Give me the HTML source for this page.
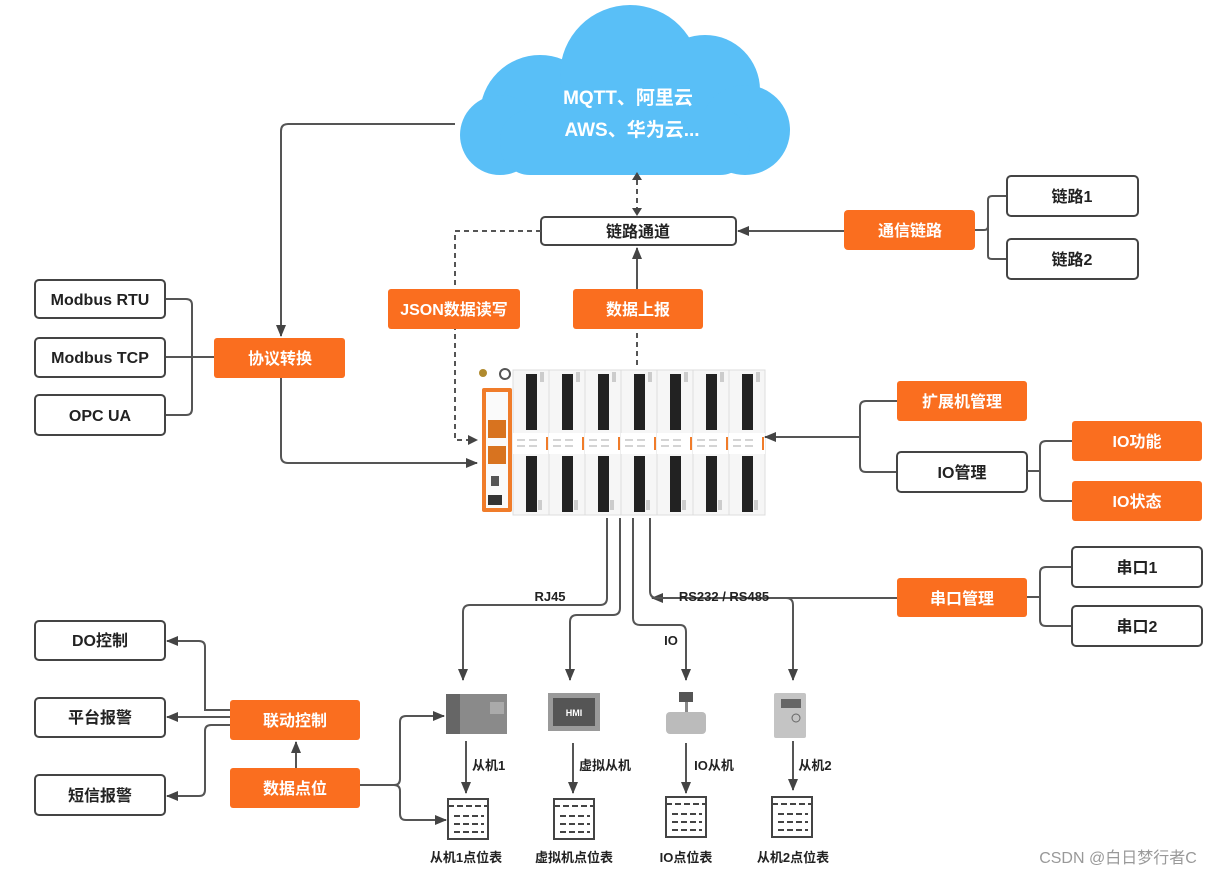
<!DOCTYPE html>
<html><head><meta charset="utf-8"><style>
html,body{margin:0;padding:0;background:#fff;}
svg{display:block;font-family:"Liberation Sans","Noto Sans CJK SC",sans-serif;}
.w{fill:#fff;stroke:#444;stroke-width:2}
.o{fill:#fa6e1f}
.tw{fill:#fff;font-size:16px;font-weight:bold;text-anchor:middle}
.tb{fill:#222;font-size:16px;font-weight:bold;text-anchor:middle}
.ln{fill:none;stroke:#555;stroke-width:2}
.sm{fill:#222;font-size:13px;font-weight:bold;text-anchor:middle}
</style></head><body>
<svg width="1223" height="875" viewBox="0 0 1223 875">
<defs>
<marker id="b" markerWidth="12" markerHeight="12" refX="11" refY="6" orient="auto" markerUnits="userSpaceOnUse"><path d="M0,1L12,6L0,11z" fill="#444"/></marker></defs>
<!-- cloud -->
<g fill="#59bff7">
<circle cx="540" cy="115" r="60"/><circle cx="630" cy="75" r="70"/><circle cx="705" cy="90" r="55"/><circle cx="745" cy="130" r="45"/><circle cx="500" cy="135" r="40"/>
<rect x="500" y="110" width="250" height="65" rx="30"/>
</g>
<text x="628" y="104" class="tw" style="font-size:19px">MQTT、阿里云</text>
<text x="632" y="136" class="tw" style="font-size:19px">AWS、华为云...</text>
<line x1="637" y1="180" x2="637" y2="209" stroke="#555" stroke-width="2" stroke-dasharray="5,4"/>
<path d="M632,180L637,172L642,180z" fill="#444"/><path d="M632,208L637,216L642,208z" fill="#444"/>
<rect x="541" y="217" width="195" height="28" rx="4" class="w"/><text x="638" y="237" class="tb">链路通道</text>
<rect x="844" y="210" width="131" height="40" rx="4" class="o"/><text x="910" y="236" class="tw">通信链路</text>
<line x1="844" y1="231" x2="738" y2="231" class="ln" marker-end="url(#b)"/>
<path d="M975,230H984M988,200V256M984,230Q988,230 988,226M988,200Q988,196 992,196H1006M988,256Q988,259 992,259H1006" class="ln"/>
<rect x="1007" y="176" width="131" height="40" rx="4" class="w"/><text x="1072" y="202" class="tb">链路1</text>
<rect x="1007" y="239" width="131" height="40" rx="4" class="w"/><text x="1072" y="265" class="tb">链路2</text>
<path d="M541,231H455V440H470" fill="none" stroke="#555" stroke-width="2" stroke-dasharray="5,4"/>
<path d="M468,435L478,440L468,445z" fill="#444"/>
<rect x="388" y="289" width="132" height="40" rx="3" class="o"/><text x="454" y="315" class="tw">JSON数据读写</text>
<rect x="573" y="289" width="130" height="40" rx="3" class="o"/><text x="638" y="315" class="tw">数据上报</text>
<line x1="637" y1="289" x2="637" y2="248" class="ln" marker-end="url(#b)"/>
<line x1="637" y1="365" x2="637" y2="330" stroke="#555" stroke-width="2" stroke-dasharray="5,4"/>
<path d="M455,124H288Q281,124 281,131V336" class="ln" marker-end="url(#b)"/>
<path d="M281,378V456Q281,463 288,463H477" class="ln" marker-end="url(#b)"/>
<rect x="214" y="338" width="131" height="40" rx="3" class="o"/><text x="280" y="364" class="tw">协议转换</text>
<path d="M165,299H186Q192,299 192,305V409Q192,415 186,415H165M165,357H214" class="ln"/>
<rect x="35" y="280" width="130" height="38" rx="4" class="w"/><text x="100" y="305" class="tb">Modbus RTU</text>
<rect x="35" y="338" width="130" height="39" rx="4" class="w"/><text x="100" y="363" class="tb">Modbus TCP</text>
<rect x="35" y="395" width="130" height="40" rx="4" class="w"/><text x="100" y="421" class="tb">OPC UA</text>
<!-- device -->
<g>
<rect x="482" y="388" width="30" height="124" rx="2" fill="#f07c2a"/><rect x="486" y="392" width="22" height="116" fill="#fafafa"/>
<rect x="488" y="420" width="18" height="18" fill="#d8731f"/><rect x="488" y="446" width="18" height="18" fill="#d8731f"/>
<rect x="491" y="476" width="8" height="10" fill="#555"/><rect x="488" y="495" width="14" height="10" fill="#333"/>
<circle cx="483" cy="373" r="4" fill="#b08a2e"/><circle cx="505" cy="374" r="5" fill="none" stroke="#555" stroke-width="2"/>
<g id="m">
<rect x="513" y="370" width="36" height="145" fill="#f6f6f6" stroke="#ddd"/>
<rect x="526" y="374" width="11" height="56" fill="#222"/><rect x="526" y="456" width="11" height="56" fill="#222"/>
<rect x="540" y="372" width="4" height="10" fill="#ccc"/><rect x="538" y="500" width="4" height="10" fill="#ccc"/>
<rect x="513" y="433" width="36" height="21" fill="#fff"/>
<rect x="546" y="437" width="2" height="13" fill="#f07c2a"/>
<path d="M517,440h8M517,446h8M529,440h8M529,446h8" stroke="#aaa"/>
</g>
<use href="#m" x="36"/><use href="#m" x="72"/><use href="#m" x="108"/><use href="#m" x="144"/><use href="#m" x="180"/><use href="#m" x="216"/>
</g>
<path d="M897,401H866Q860,401 860,407V466Q860,472 866,472H897" class="ln"/>
<line x1="860" y1="437" x2="765" y2="437" class="ln" marker-end="url(#b)"/>
<rect x="897" y="381" width="130" height="40" rx="3" class="o"/><text x="962" y="407" class="tw">扩展机管理</text>
<rect x="897" y="452" width="130" height="40" rx="4" class="w"/><text x="962" y="478" class="tb">IO管理</text>
<path d="M1072,441H1046Q1040,441 1040,447V495Q1040,501 1046,501H1072M1027,471H1040" class="ln"/>
<rect x="1072" y="421" width="130" height="40" rx="3" class="o"/><text x="1137" y="447" class="tw">IO功能</text>
<rect x="1072" y="481" width="130" height="40" rx="3" class="o"/><text x="1137" y="507" class="tw">IO状态</text>
<rect x="897" y="578" width="130" height="39" rx="3" class="o"/><text x="962" y="604" class="tw">串口管理</text>
<path d="M1072,567H1046Q1040,567 1040,573V620Q1040,626 1046,626H1072M1027,597H1040" class="ln"/>
<rect x="1072" y="547" width="130" height="40" rx="4" class="w"/><text x="1137" y="573" class="tb">串口1</text>
<rect x="1072" y="606" width="130" height="40" rx="4" class="w"/><text x="1137" y="632" class="tb">串口2</text>
<line x1="897" y1="598" x2="652" y2="598" class="ln" marker-end="url(#b)"/>
<path d="M607,518V598Q607,605 600,605H470Q463,605 463,612V680" class="ln" marker-end="url(#b)"/>
<path d="M620,518V608Q620,615 613,615H577Q570,615 570,622V680" class="ln" marker-end="url(#b)"/>
<path d="M633,518V618Q633,625 640,625H680Q686,625 686,632V680" class="ln" marker-end="url(#b)"/>
<path d="M650,518V591Q650,598 657,598H786Q793,598 793,605V680" class="ln" marker-end="url(#b)"/>
<text x="550" y="601" class="sm">RJ45</text><text x="724" y="601" class="sm">RS232 / RS485</text><text x="671" y="645" class="sm">IO</text>
<rect x="446" y="694" width="61" height="40" fill="#8a8a8a"/><rect x="446" y="694" width="14" height="40" fill="#666"/><rect x="490" y="702" width="14" height="12" fill="#aaa"/>
<rect x="548" y="693" width="52" height="38" fill="#9a9a9a"/><rect x="553" y="698" width="42" height="28" fill="#555"/><text x="574" y="716" fill="#fff" font-size="9" font-weight="bold" text-anchor="middle">HMI</text>
<rect x="679" y="692" width="14" height="10" fill="#555"/><rect x="685" y="702" width="3" height="12" fill="#888"/><rect x="666" y="712" width="40" height="22" rx="4" fill="#bbb"/>
<rect x="774" y="693" width="32" height="45" rx="2" fill="#c4c4c4"/><rect x="781" y="699" width="20" height="9" fill="#666"/><circle cx="796" cy="718" r="4" fill="none" stroke="#666"/>
<g class="ln">
<line x1="466" y1="741" x2="466" y2="793" marker-end="url(#b)"/><line x1="573" y1="743" x2="573" y2="793" marker-end="url(#b)"/><line x1="686" y1="743" x2="686" y2="793" marker-end="url(#b)"/><line x1="793" y1="741" x2="793" y2="790" marker-end="url(#b)"/>
</g>
<text x="472" y="770" class="sm" style="text-anchor:start">从机1</text>
<text x="605" y="770" class="sm">虚拟从机</text><text x="714" y="770" class="sm">IO从机</text><text x="815" y="770" class="sm">从机2</text>
<g fill="#fff" stroke="#444" stroke-width="2">
<rect x="448" y="799" width="40" height="40"/><rect x="554" y="799" width="40" height="40"/><rect x="666" y="797" width="40" height="40"/><rect x="772" y="797" width="40" height="40"/>
</g>
<g stroke="#444" stroke-width="2" stroke-dasharray="6,3">
<path d="M448,806h40M454,816h30M454,824h30M454,832h30"/><path d="M554,806h40M560,816h30M560,824h30M560,832h30"/>
<path d="M666,804h40M672,814h30M672,822h30M672,830h30"/><path d="M772,804h40M778,814h30M778,822h30M778,830h30"/>
</g>
<text x="466" y="862" class="sm">从机1点位表</text><text x="574" y="862" class="sm">虚拟机点位表</text><text x="686" y="862" class="sm">IO点位表</text><text x="793" y="862" class="sm">从机2点位表</text>
<rect x="35" y="621" width="130" height="39" rx="4" class="w"/><text x="100" y="646" class="tb">DO控制</text>
<rect x="35" y="698" width="130" height="39" rx="4" class="w"/><text x="100" y="723" class="tb">平台报警</text>
<rect x="35" y="775" width="130" height="40" rx="4" class="w"/><text x="100" y="801" class="tb">短信报警</text>
<rect x="230" y="700" width="130" height="40" rx="3" class="o"/><text x="295" y="726" class="tw">联动控制</text>
<rect x="230" y="768" width="130" height="40" rx="3" class="o"/><text x="295" y="794" class="tw">数据点位</text>
<path d="M230,710H205V647Q205,641 199,641H167" class="ln" marker-end="url(#b)"/>
<line x1="230" y1="717" x2="167" y2="717" class="ln" marker-end="url(#b)"/>
<path d="M230,725H211Q205,725 205,731V790Q205,796 199,796H167" class="ln" marker-end="url(#b)"/>
<line x1="296" y1="768" x2="296" y2="742" class="ln" marker-end="url(#b)"/>
<path d="M360,785H394Q400,785 400,779V722Q400,716 406,716H444" class="ln" marker-end="url(#b)"/>
<path d="M394,785Q400,785 400,791V814Q400,820 406,820H446" class="ln" marker-end="url(#b)"/>
<text x="1118" y="863" fill="#999" font-size="16" text-anchor="middle">CSDN @白日梦行者C</text>
</svg>
</body></html>
